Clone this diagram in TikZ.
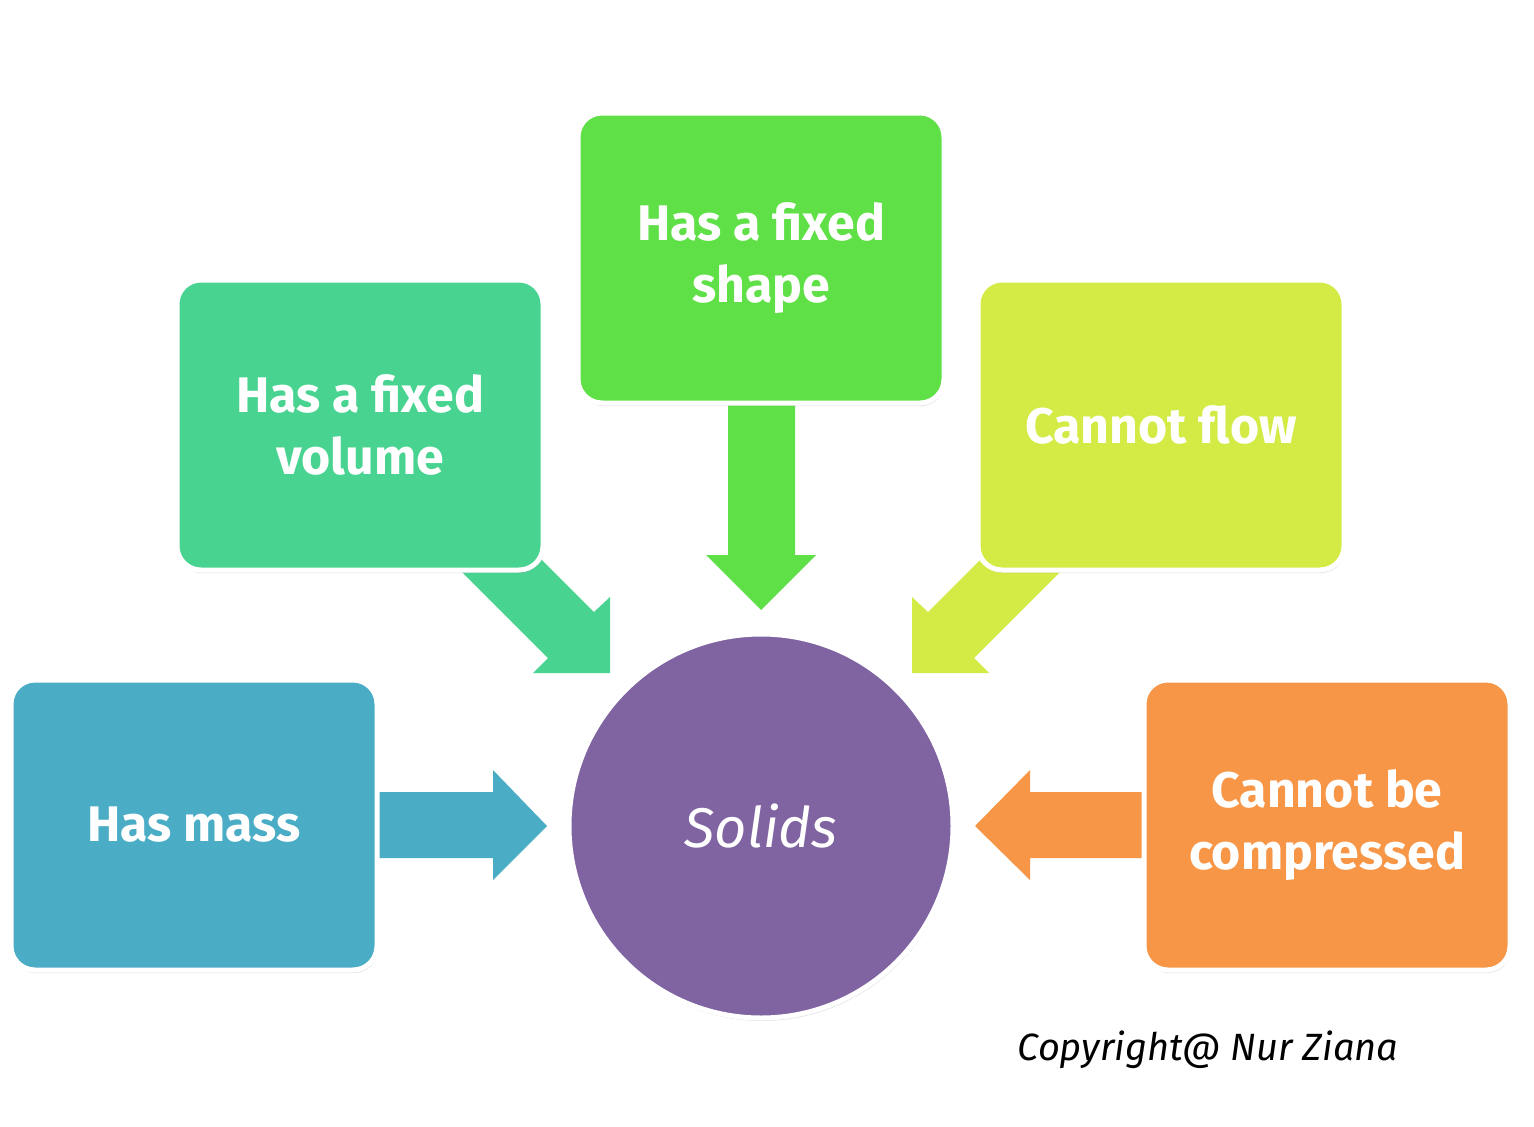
\documentclass[tikz,border=0pt]{standalone}
\usepackage{fontspec}
\setmainfont{Fira Sans}
\usetikzlibrary{shadows}
\definecolor{cmass}{HTML}{4BACC6}
\definecolor{cvol}{HTML}{48D490}
\definecolor{cshape}{HTML}{5FE046}
\definecolor{cflow}{HTML}{D4EB46}
\definecolor{ccomp}{HTML}{F79646}
\definecolor{csol}{HTML}{8064A2}
\begin{document}
\begin{tikzpicture}[x=1pt,y=-1pt,
  box/.style={rounded corners=24pt, draw=white, line width=5pt, minimum width=366pt, minimum height=290pt,
    text=white, align=center, font=\fontsize{50}{62}\selectfont\bfseries,
    drop shadow={opacity=0.25, shadow xshift=1pt, shadow yshift=-3pt}},
  arr/.style={draw=none}]
\useasboundingbox (0,0) rectangle (1534,1127);
% arrows
\fill[cmass] (370,792) -- (493,792) -- (493,770) -- (547,826) -- (493,880) -- (493,858) -- (370,858) -- cycle;
\fill[ccomp] (1152,792) -- (1030,792) -- (1030,770) -- (975,826) -- (1030,880) -- (1030,858) -- (1152,858) -- cycle;
\fill[cshape] (728,395) -- (795,395) -- (795,555) -- (816,555) -- (761,610) -- (706,555) -- (728,555) -- cycle;
\fill[cvol] (448,558) -- (548,658) -- (533,673) -- (610,673) -- (610,597) -- (594,612) -- (494,512) -- cycle;
\fill[cflow] (1074,558) -- (974,658) -- (989,673) -- (912,673) -- (912,597) -- (928,612) -- (1028,512) -- cycle;
% boxes
\node[box, fill=cmass] (mass) at (194,825) {Has mass};
\node[box, fill=cvol] (vol) at (360,425) {Has a fixed\\volume};
\node[box, fill=cshape] (shape) at (761,258) {Has a fixed\\shape};
\node[box, fill=cflow] (flow) at (1161,425) {Cannot flow};
\node[box, fill=ccomp] (comp) at (1327,825) {Cannot be\\compressed};
\node[circle, fill=csol, draw=white, line width=5pt, minimum size=384pt, text=white,
  font=\fontsize{56}{66}\selectfont\itshape,
  drop shadow={opacity=0.25, shadow xshift=1pt, shadow yshift=-3pt}] (sol) at (761,826) {Solids};
\node[font=\fontsize{38}{44}\selectfont\itshape\rmfamily, anchor=center] (copy) at (1208,1050) {Copyright@ Nur Ziana};
\end{tikzpicture}
\end{document}
